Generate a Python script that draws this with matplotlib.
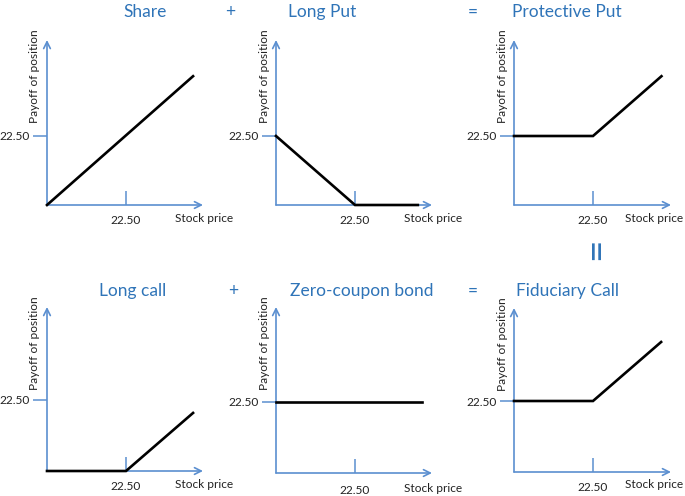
import matplotlib.pyplot as plt
from matplotlib.transforms import offset_copy

plt.rcParams['font.family'] = ['Lato', 'DejaVu Sans']

# payoff diagrams (stock price, payoff)
strike = 22.5
share_x = [0, 41.6]
share_y = [0, 42.0]
put_x = [0, 22.5, 40.4]
put_y = [22.5, 0, 0]
protective_x = [0, 22.5, 42.0]
protective_y = [22.5, 22.5, 42.0]
call_x = [0, 22.5, 41.6]
call_y = [0, 0, 18.4]
bond_x = [0, 41.6]
bond_y = [22.5, 22.5]
fiduciary_x = [0, 22.5, 41.9]
fiduciary_y = [22.5, 22.5, 41.2]

titles = ["Share", "Long Put", "Protective Put",
          "Long call", "Zero-coupon bond", "Fiduciary Call"]
series = [(share_x, share_y), (put_x, put_y), (protective_x, protective_y),
          (call_x, call_y), (bond_x, bond_y), (fiduciary_x, fiduciary_y)]
tick_label = "22.50"

title_blue = "#2F74B8"
axis_blue = "#5B8FD0"
text_col = "#222222"
small = 8.6

W, H = 685, 496
# origin x, origin y, x-arrow end, y-arrow top (pixels)
boxes = [(47, 205, 203, 40), (276, 205, 432, 40), (514, 205, 671, 40),
         (47, 471, 203, 307), (276, 473, 432, 307), (514, 472, 671, 308)]
title_pos = [(145, 12), (322, 12), (567, 12), (133, 291), (362, 291), (568, 291)]
x_px_per_unit = 79 / 22.5
y_px_per_unit = [69 / 22.5] * 3 + [71 / 22.5] * 3

fig = plt.figure(figsize=(W / 100, H / 100), dpi=100)

for i, (x0, y0, x1, y1) in enumerate(boxes):
    ax = fig.add_axes([x0 / W, 1 - y0 / H, (x1 - x0) / W, (y0 - y1) / H])
    xmax = (x1 - x0) / x_px_per_unit
    ymax = (y0 - y1) / y_px_per_unit[i]
    ax.set_xlim(0, xmax)
    ax.set_ylim(0, ymax)
    for s in ax.spines.values():
        s.set_visible(False)
    ax.patch.set_visible(False)

    arrow = dict(arrowstyle='->', color=axis_blue, lw=1.2, mutation_scale=12,
                 shrinkA=0, shrinkB=0)
    ax.annotate("", xy=(xmax, 0), xytext=(0, 0), arrowprops=arrow)
    ax.annotate("", xy=(0, ymax), xytext=(0, 0), arrowprops=arrow)

    ax.set_xticks([strike])
    ax.set_xticklabels([tick_label])
    ax.set_yticks([strike])
    ax.set_yticklabels([tick_label])
    ax.tick_params(axis='x', direction='in', length=10, width=1.1, color=axis_blue,
                   labelcolor=text_col, labelsize=small, pad=7 if i != 4 else 9)
    ax.tick_params(axis='y', direction='out', length=10, width=1.1, color=axis_blue,
                   labelcolor=text_col, labelsize=small, pad=2.3)

    xs, ys = series[i]
    ax.plot(xs, ys, color='black', lw=1.9, clip_on=False, zorder=5,
            solid_joinstyle='miter')

    # axis captions
    lab_y = -13 if i != 4 else -15
    if i % 3 == 2:
        tr = offset_copy(ax.transAxes, fig=fig, x=683 - x1, y=lab_y, units='dots')
        ax.text(1, 0, "Stock price", transform=tr, ha='right', va='center',
                fontsize=small, color=text_col)
    else:
        tr = offset_copy(ax.transAxes, fig=fig, x=1, y=lab_y, units='dots')
        ax.text(1, 0, "Stock price", transform=tr, ha='center', va='center',
                fontsize=small, color=text_col)
    tr = offset_copy(ax.transAxes, fig=fig, x=-12, y=-36, units='dots')
    ax.text(0, 1, "Payoff of position", transform=tr, rotation=90,
            ha='center', va='center', fontsize=small, color=text_col)

    tx, ty = title_pos[i]
    fig.text(tx / W, 1 - ty / H, titles[i], ha='center', va='center',
             fontsize=12.5, color=title_blue)

# operators between the panels
for (ox, oy, sym) in [(230, 12, "+"), (473, 12, "="), (233, 291, "+"), (473, 291, "=")]:
    fig.text(ox / W, 1 - oy / H, sym, ha='center', va='center',
             fontsize=12.5, color=title_blue)
fig.text(597 / W, 1 - 249 / H, "=", rotation=90, ha='center', va='center',
         fontsize=28, color=title_blue)

fig.savefig("out.png", dpi=100)
